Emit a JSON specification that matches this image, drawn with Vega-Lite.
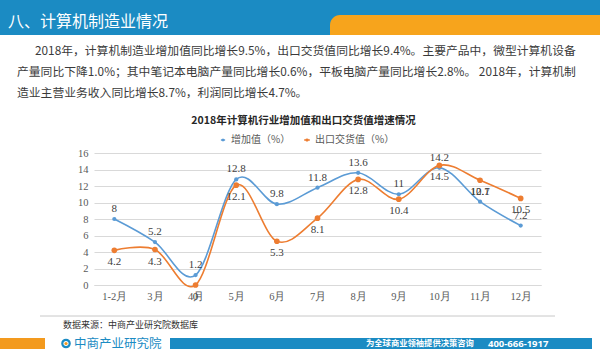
{
  "$schema": "https://vega.github.io/schema/vega-lite/v6.json",
  "width": 447,
  "height": 132,
  "autosize": {"type": "none"},
  "padding": {"left": 94, "top": 153, "right": 59, "bottom": 71},
  "background": "white",
  "config": {"view": {"stroke": null}, "font": "Noto Sans CJK SC"},
  "title": {
    "text": "2018年计算机行业增加值和出口交货值增速情况",
    "anchor": "middle",
    "frame": "group",
    "offset": -131,
    "baseline": "middle",
    "dx": -14,
    "fontSize": 10.5,
    "fontWeight": "bold",
    "color": "#262626",
    "font": "Noto Sans CJK SC"
  },
  "data": {
    "values": [
      {"month": "1-2月", "series": "增加值（%）", "value": 8},
      {"month": "3月", "series": "增加值（%）", "value": 5.2},
      {"month": "4月", "series": "增加值（%）", "value": 1.2},
      {"month": "5月", "series": "增加值（%）", "value": 12.8},
      {"month": "6月", "series": "增加值（%）", "value": 9.8},
      {"month": "7月", "series": "增加值（%）", "value": 11.8},
      {"month": "8月", "series": "增加值（%）", "value": 13.6},
      {"month": "9月", "series": "增加值（%）", "value": 11},
      {"month": "10月", "series": "增加值（%）", "value": 14.2},
      {"month": "11月", "series": "增加值（%）", "value": 10.1},
      {"month": "12月", "series": "增加值（%）", "value": 7.2},
      {"month": "1-2月", "series": "出口交货值（%）", "value": 4.2},
      {"month": "3月", "series": "出口交货值（%）", "value": 4.3},
      {"month": "4月", "series": "出口交货值（%）", "value": 0},
      {"month": "5月", "series": "出口交货值（%）", "value": 12.1},
      {"month": "6月", "series": "出口交货值（%）", "value": 5.3},
      {"month": "7月", "series": "出口交货值（%）", "value": 8.1},
      {"month": "8月", "series": "出口交货值（%）", "value": 12.8},
      {"month": "9月", "series": "出口交货值（%）", "value": 10.4},
      {"month": "10月", "series": "出口交货值（%）", "value": 14.5},
      {"month": "11月", "series": "出口交货值（%）", "value": 12.7},
      {"month": "12月", "series": "出口交货值（%）", "value": 10.5}
    ]
  },
  "layer": [
    {
      "data": {"values": [{}]},
      "mark": {"type": "rect", "color": "#1b8bc3"},
      "encoding": {"x": {"value": -94}, "x2": {"value": 506}, "y": {"value": -153}, "y2": {"value": -118}}
    },
    {
      "data": {"values": [{}]},
      "mark": {"type": "rect", "color": "#f7a41c", "cornerRadiusTopLeft": 24},
      "encoding": {"x": {"value": 236}, "x2": {"value": 506}, "y": {"value": -138}, "y2": {"value": -118}}
    },
    {
      "data": {"values": [{}]},
      "mark": {"type": "text", "text": "八、计算机制造业情况", "align": "left", "baseline": "middle", "fontSize": 16, "color": "white", "font": "Noto Sans CJK SC"},
      "encoding": {"x": {"value": -86}, "y": {"value": -131}}
    },
    {
      "data": {"values": [{}]},
      "mark": {"type": "text", "text": "2018年，计算机制造业增加值同比增长9.5%，出口交货值同比增长9.4%。主要产品中，微型计算机设备", "align": "left", "baseline": "middle", "fontSize": 11.8, "color": "#3a3a3a", "font": "Noto Sans CJK SC"},
      "encoding": {"x": {"value": -59}, "y": {"value": -102}}
    },
    {
      "data": {"values": [{}]},
      "mark": {"type": "text", "text": "产量同比下降1.0%；其中笔记本电脑产量同比增长0.6%，平板电脑产量同比增长2.8%。 2018年，计算机制", "align": "left", "baseline": "middle", "fontSize": 11.8, "color": "#3a3a3a", "font": "Noto Sans CJK SC"},
      "encoding": {"x": {"value": -77}, "y": {"value": -81}}
    },
    {
      "data": {"values": [{}]},
      "mark": {"type": "text", "text": "造业主营业务收入同比增长8.7%，利润同比增长4.7%。", "align": "left", "baseline": "middle", "fontSize": 11.8, "color": "#3a3a3a", "font": "Noto Sans CJK SC"},
      "encoding": {"x": {"value": -77}, "y": {"value": -60}}
    },
    {
      "data": {"values": [{}]},
      "mark": {"type": "rule", "color": "#c8c8c8", "strokeWidth": 1},
      "encoding": {"x": {"value": -54}, "x2": {"value": 461}, "y": {"value": 163}}
    },
    {
      "data": {"values": [{}]},
      "mark": {"type": "text", "text": "数据来源：中商产业研究院数据库", "align": "left", "baseline": "middle", "fontSize": 9, "color": "#333333", "font": "Noto Sans CJK SC"},
      "encoding": {"x": {"value": -31}, "y": {"value": 172}}
    },
    {
      "data": {"values": [{}]},
      "mark": {"type": "rect", "color": "#f39a1e"},
      "encoding": {"x": {"value": -94}, "x2": {"value": -49}, "y": {"value": 185}, "y2": {"value": 196}}
    },
    {
      "data": {"values": [{}]},
      "mark": {"type": "point", "shape": "circle", "filled": false, "color": "#1b8bc3", "strokeWidth": 2.2, "size": 55, "opacity": 1},
      "encoding": {"x": {"value": -28}, "y": {"value": 190.5}}
    },
    {
      "data": {"values": [{}]},
      "mark": {"type": "point", "shape": "circle", "filled": true, "color": "#f39a1e", "size": 10, "opacity": 1},
      "encoding": {"x": {"value": -28}, "y": {"value": 190.5}}
    },
    {
      "data": {"values": [{}]},
      "mark": {"type": "text", "text": "中商产业研究院", "align": "left", "baseline": "middle", "fontSize": 12.5, "color": "#1b8bc3", "font": "Noto Sans CJK SC"},
      "encoding": {"x": {"value": -20}, "y": {"value": 191}}
    },
    {
      "data": {"values": [{}]},
      "mark": {"type": "rect", "color": "#1b8bc3"},
      "encoding": {"x": {"value": 76}, "x2": {"value": 498}, "y": {"value": 185}, "y2": {"value": 196}}
    },
    {
      "data": {"values": [{}]},
      "mark": {"type": "text", "text": "为全球商业领袖提供决策咨询", "align": "left", "baseline": "middle", "fontSize": 8.3, "fontWeight": "bold", "color": "white", "font": "Noto Sans CJK SC"},
      "encoding": {"x": {"value": 272}, "y": {"value": 190.5}}
    },
    {
      "data": {"values": [{}]},
      "mark": {"type": "text", "text": "400-666-1917", "align": "left", "baseline": "middle", "fontSize": 9.5, "fontWeight": "bold", "color": "white", "font": "Noto Sans"},
      "encoding": {"x": {"value": 394}, "y": {"value": 190.5}}
    },
    {
      "encoding": {
        "x": {"field": "month", "type": "ordinal", "sort": null,
          "axis": {"title": null, "labelAngle": 0, "labelPadding": 6, "labelFontSize": 10.5, "labelColor": "#595959", "labelFont": "Liberation Serif", "ticks": false, "domainColor": "#d9d9d9"}},
        "y": {"field": "value", "type": "quantitative", "scale": {"domain": [0, 16], "nice": false},
          "axis": {"title": null, "values": [0, 2, 4, 6, 8, 10, 12, 14, 16], "labelOverlap": false, "labelPadding": 6, "labelFontSize": 10.5, "labelColor": "#595959", "labelFont": "Liberation Serif", "ticks": false, "domain": false, "gridColor": "#d9d9d9"}}
      },
      "layer": [
        {
          "mark": {"type": "line", "interpolate": "cardinal", "strokeWidth": 1.6},
          "encoding": {
            "color": {"field": "series", "type": "nominal",
              "scale": {"domain": ["增加值（%）", "出口交货值（%）"], "range": ["#5b9bd5", "#ed7d31"]},
              "legend": {"title": null, "orient": "none", "legendX": 124, "legendY": -18, "direction": "horizontal",
                "symbolType": "M-1,0L1,0M0.3,0A0.3,0.3,0,1,1,-0.3,0A0.3,0.3,0,1,1,0.3,0",
                "symbolSize": 256, "symbolStrokeWidth": 1.5, "labelFontSize": 10, "labelColor": "#595959",
                "labelOffset": 3, "columnPadding": 10, "labelFont": "Noto Sans CJK SC"}}
          }
        },
        {
          "mark": {"type": "point", "filled": true, "opacity": 1},
          "encoding": {
            "color": {"field": "series", "type": "nominal"},
            "size": {"field": "series", "type": "nominal", "scale": {"domain": ["增加值（%）", "出口交货值（%）"], "range": [18, 32]}, "legend": null}
          }
        },
        {
          "transform": [{"filter": "datum.series === '增加值（%）'"}],
          "mark": {"type": "text", "dy": -10, "baseline": "middle", "fontSize": 11, "font": "Liberation Serif", "color": "#404040"},
          "encoding": {
            "text": {"field": "value", "type": "quantitative", "format": ".1~f"}
          }
        },
        {
          "transform": [{"filter": "datum.series === '出口交货值（%）'"}],
          "mark": {"type": "text", "dy": 12, "baseline": "middle", "fontSize": 11, "font": "Liberation Serif", "color": "#404040"},
          "encoding": {
            "text": {"field": "value", "type": "quantitative", "format": ".1~f"}
          }
        }
      ]
    }
  ]
}
